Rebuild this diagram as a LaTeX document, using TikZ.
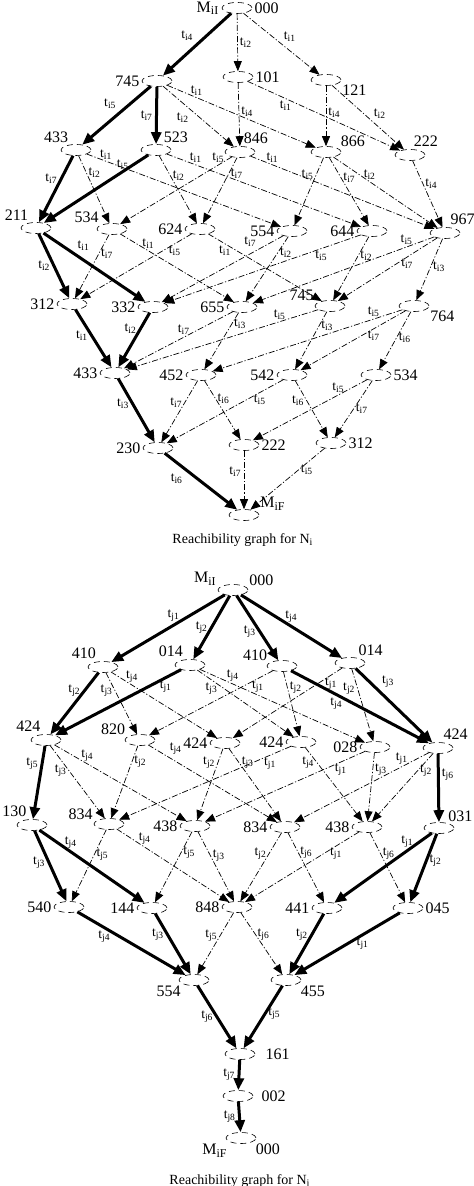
\documentclass[tikz,border=0pt]{standalone}
\usepackage{fontspec}
\setmainfont{Liberation Serif}
\usepackage{tikz}
\usetikzlibrary{positioning, shapes.geometric, arrows.meta}
\newcommand{\tlab}[1]{t\textsubscript{#1}}
\tikzset{
    stateE/.style={ellipse, draw, densely dashed, line width=0.3pt, minimum width=15pt, minimum height=5.5pt, inner sep=0pt},
    nlab/.style={font=\fontsize{8}{8}\selectfont, inner sep=1pt, solid},
    lbl/.style={font=\fontsize{6.8}{6.8}\selectfont, inner sep=1pt},
    captext/.style={font=\fontsize{7}{7}\selectfont, inner sep=0pt},
    fireT/.style={-{Triangle[length=5pt,width=4pt]}, line width=0.35pt, dash pattern=on 3pt off 1pt on 0.6pt off 1pt},
    fireB/.style={-{Triangle[length=6pt,width=5pt]}, line width=1.5pt}
}
\begin{document}
\begin{tikzpicture}[x=0.5pt, y=-0.5pt]
		\useasboundingbox (0,0) rectangle (474,1186);
		% N_i
		\node[stateE, label={[nlab]left:M\textsubscript{iI}}, label={[nlab]right:000}] (i000) at (237,8) {};
		\node[stateE, label={[nlab]left:745}] (i745a) at (157,81) {};
		\node[stateE, label={[nlab]right:101}] (i101) at (238,77) {};
		\node[stateE, label={[nlab]-10:121}] (i121) at (326,80) {};
		\node[stateE, label={[nlab]135:433}] (i433a) at (76,150) {};
		\node[stateE, label={[nlab]45:523}] (i523) at (156,150) {};
		\node[stateE, label={[nlab]75:846}] (i846) at (240,152) {};
		\node[stateE, label={[nlab]15:866}] (i866) at (326,152) {};
		\node[stateE, label={[nlab]75:222}] (i222a) at (410,155) {};
		\node[stateE, label={[nlab]135:211}] (i211) at (36,228) {};
		\node[stateE, label={[nlab]160:534}] (i534a) at (112,229) {};
		\node[stateE, label={[nlab]left:624}] (i624) at (200,229) {};
		\node[stateE, label={[nlab]left:554}] (i554a) at (292,231) {};
		\node[stateE, label={[nlab]left:644}] (i644) at (372,231) {};
		\node[stateE, label={[nlab]60:967}] (i967) at (445,233) {};
		\node[stateE, label={[nlab]left:312}] (i312a) at (72,304) {};
		\node[stateE, label={[nlab]left:332}] (i332) at (153,307) {};
		\node[stateE, label={[nlab]left:655}] (i655) at (242,307) {};
		\node[stateE, label={[nlab]170:745}] (i745b) at (330,306) {};
		\node[stateE, label={[nlab]-10:764}] (i764) at (414,306) {};
		\node[stateE, label={[nlab]left:433}] (i433b) at (115,373) {};
		\node[stateE, label={[nlab]left:452}] (i452) at (201,375) {};
		\node[stateE, label={[nlab]left:542}] (i542) at (292,375) {};
		\node[stateE, label={[nlab]right:534}] (i534b) at (376,375) {};
		\node[stateE, label={[nlab]left:230}] (i230) at (158,448) {};
		\node[stateE, label={[nlab]right:222}] (i222b) at (244,445) {};
		\node[stateE, label={[nlab]right:312}] (i312b) at (331,443) {};
		\node[stateE, label={[nlab]10:M\textsubscript{iF}}] (iF) at (244,515) {};
		\node[captext] (capI) at (243,540) {Reachibility graph for N\textsubscript{i}};

		\draw
		(i000) edge[fireB] node[lbl, pos=0.5, above left] {\tlab{i4}} (i745a)
		(i000) edge[fireT] node[lbl, pos=0.5, right] {\tlab{i2}} (i101)
		(i000) edge[fireT] node[lbl, pos=0.5, above right] {\tlab{i1}} (i121)
		(i745a) edge[fireB] node[lbl, pos=0.45, above left] {\tlab{i5}} (i433a)
		(i745a) edge[fireB] node[lbl, pos=0.5, left] {\tlab{i7}} (i523)
		(i745a) edge[fireT] node[lbl, pos=0.2, above] {\tlab{i1}} (i866)
		(i745a) edge[fireT] node[lbl, pos=0.4, below left] {\tlab{i2}} (i846)
		(i101) edge[fireT] node[lbl, pos=0.45, right] {\tlab{i4}} (i846)
		(i101) edge[fireT] node[lbl, pos=0.25, below] {\tlab{i1}} (i222a)
		(i121) edge[fireT] node[lbl, pos=0.45, right] {\tlab{i4}} (i866)
		(i121) edge[fireT] node[lbl, pos=0.55, above right] {\tlab{i2}} (i222a)
		(i433a) edge[fireB] node[lbl, pos=0.35, left] {\tlab{i7}} (i211)
		(i433a) edge[fireT] node[lbl, pos=0.25, right] {\tlab{i2}} (i534a)
		(i433a) edge[fireT] node[lbl, pos=0.1, above] {\tlab{i1}} (i554a)
		(i523) edge[fireB] node[lbl, pos=0.15, left] {\tlab{i5}} (i211)
		(i523) edge[fireT] node[lbl, pos=0.3, right] {\tlab{i2}} (i624)
		(i523) edge[fireT] node[lbl, pos=0.15, above] {\tlab{i1}} (i644)
		(i846) edge[fireT] node[lbl, pos=0.12, above] {\tlab{i5}} (i534a)
		(i846) edge[fireT] node[lbl, pos=0.25, right] {\tlab{i7}} (i624)
		(i846) edge[fireT] node[lbl, pos=0.12, above] {\tlab{i1}} (i967)
		(i866) edge[fireT] node[lbl, pos=0.25, left] {\tlab{i5}} (i554a)
		(i866) edge[fireT] node[lbl, pos=0.3, right] {\tlab{i7}} (i644)
		(i866) edge[fireT] node[lbl, pos=0.35, above] {\tlab{i2}} (i967)
		(i222a) edge[fireT] node[lbl, pos=0.35, right] {\tlab{i4}} (i967)
		(i211) edge[fireB] node[lbl, pos=0.5, left] {\tlab{i2}} (i312a)
		(i211) edge[fireB] node[lbl, pos=0.3, above right] {\tlab{i1}} (i332)
		(i534a) edge[fireT] node[lbl, pos=0.3, right] {\tlab{i7}} (i312a)
		(i534a) edge[fireT] node[lbl, pos=0.25, above] {\tlab{i1}} (i655)
		(i624) edge[fireT] node[lbl, pos=0.15, below] {\tlab{i5}} (i312a)
		(i624) edge[fireT] node[lbl, pos=0.15, below] {\tlab{i1}} (i745b)
		(i554a) edge[fireT] node[lbl, pos=0.2, above left] {\tlab{i7}} (i332)
		(i554a) edge[fireT] node[lbl, pos=0.25, right] {\tlab{i2}} (i655)
		(i644) edge[fireT] node[lbl, pos=0.2, below] {\tlab{i5}} (i332)
		(i644) edge[fireT] node[lbl, pos=0.3, right] {\tlab{i2}} (i745b)
		(i967) edge[fireT] node[lbl, pos=0.15, above] {\tlab{i5}} (i655)
		(i967) edge[fireT] node[lbl, pos=0.3, below] {\tlab{i7}} (i745b)
		(i967) edge[fireT] node[lbl, pos=0.45, right] {\tlab{i3}} (i764)
		(i312a) edge[fireB] node[lbl, pos=0.45, left] {\tlab{i1}} (i433b)
		(i332) edge[fireB] node[lbl, pos=0.3, left] {\tlab{i2}} (i433b)
		(i655) edge[fireT] node[lbl, pos=0.45, above] {\tlab{i7}} (i433b)
		(i655) edge[fireT] node[lbl, pos=0.2, right] {\tlab{i3}} (i452)
		(i745b) edge[fireT] node[lbl, pos=0.2, above] {\tlab{i5}} (i433b)
		(i745b) edge[fireT] node[lbl, pos=0.25, right] {\tlab{i3}} (i542)
		(i764) edge[fireT] node[lbl, pos=0.15, above] {\tlab{i5}} (i452)
		(i764) edge[fireT] node[lbl, pos=0.3, below] {\tlab{i7}} (i542)
		(i764) edge[fireT] node[lbl, pos=0.45, right] {\tlab{i6}} (i534b)
		(i433b) edge[fireB] node[lbl, pos=0.4, left] {\tlab{i3}} (i230)
		(i452) edge[fireT] node[lbl, pos=0.35, left] {\tlab{i7}} (i230)
		(i452) edge[fireT] node[lbl, pos=0.3, right] {\tlab{i6}} (i222b)
		(i542) edge[fireT] node[lbl, pos=0.2, below] {\tlab{i5}} (i230)
		(i542) edge[fireT] node[lbl, pos=0.35, left] {\tlab{i6}} (i312b)
		(i534b) edge[fireT] node[lbl, pos=0.25, above] {\tlab{i5}} (i222b)
		(i534b) edge[fireT] node[lbl, pos=0.5, right] {\tlab{i7}} (i312b)
		(i230) edge[fireB] node[lbl, pos=0.3, below left] {\tlab{i6}} (iF)
		(i222b) edge[fireT] node[lbl, pos=0.35, left] {\tlab{i7}} (iF)
		(i312b) edge[fireT] node[lbl, pos=0.35, right] {\tlab{i5}} (iF);

		% N_j
		\node[stateE, label={[nlab]170:M\textsubscript{iI}}, label={[nlab]10:000}] (j000) at (233,590) {};
		\node[stateE, label={[nlab]130:410}] (j410a) at (103,667) {};
		\node[stateE, label={[nlab]130:014}] (j014a) at (190,665) {};
		\node[stateE, label={[nlab]165:410}] (j410b) at (282,666) {};
		\node[stateE, label={[nlab]40:014}] (j014b) at (350,663) {};
		\node[stateE, label={[nlab]120:424}] (j424a) at (46,740) {};
		\node[stateE, label={[nlab]165:820}] (j820) at (140,740) {};
		\node[stateE, label={[nlab]left:424}] (j424b) at (225,743) {};
		\node[stateE, label={[nlab]left:424}] (j424c) at (301,742) {};
		\node[stateE, label={[nlab]left:028}] (j028) at (375,747) {};
		\node[stateE, label={[nlab]60:424}] (j424d) at (438,748) {};
		\node[stateE, label={[nlab]120:130}] (j130) at (32,825) {};
		\node[stateE, label={[nlab]170:834}] (j834a) at (109,824) {};
		\node[stateE, label={[nlab]left:438}] (j438a) at (195,826) {};
		\node[stateE, label={[nlab]left:834}] (j834b) at (285,827) {};
		\node[stateE, label={[nlab]left:438}] (j438b) at (367,827) {};
		\node[stateE, label={[nlab, xshift=-2pt]20:031}] (j031) at (439,828) {};
		\node[stateE, label={[nlab]left:540}] (j540) at (69,907) {};
		\node[stateE, label={[nlab]left:144}] (j144) at (152,908) {};
		\node[stateE, label={[nlab]left:848}] (j848) at (237,907) {};
		\node[stateE, label={[nlab]left:441}] (j441) at (327,908) {};
		\node[stateE, label={[nlab]right:045}] (j045) at (408,908) {};
		\node[stateE, label={[nlab]200:554}] (j554) at (194,980) {};
		\node[stateE, label={[nlab]-15:455}] (j455) at (286,980) {};
		\node[stateE, label={[nlab, label distance=4pt]right:161}] (j161) at (240,1054) {};
		\node[stateE, label={[nlab, label distance=3pt]right:002}] (j002) at (238,1096) {};
		\node[stateE, label={[nlab]-15:000}, label={[nlab]200:M\textsubscript{iF}}] (jF) at (241,1138) {};
		\node[captext, anchor=north] (capJ) at (240,1174) {Reachibility graph for N\textsubscript{j}};

		\draw
		(j000) edge[fireB] node[lbl, pos=0.45, above] {\tlab{j1}} (j410a)
		(j000) edge[fireB] node[lbl, pos=0.5, left] {\tlab{j2}} (j014a)
		(j000) edge[fireB] node[lbl, pos=0.55, left] {\tlab{j3}} (j410b)
		(j000) edge[fireB] node[lbl, pos=0.5, above] {\tlab{j4}} (j014b)
		(j410a) edge[fireB] node[lbl, pos=0.3, left] {\tlab{j2}} (j424a)
		(j410a) edge[fireT] node[lbl, pos=0.3, left] {\tlab{j3}} (j820)
		(j410a) edge[fireT] node[lbl, pos=0.2, above] {\tlab{j4}} (j424b)
		(j014a) edge[fireB] node[lbl, pos=0.12, below] {\tlab{j1}} (j424a)
		(j014a) edge[fireT] node[lbl, pos=0.15, below] {\tlab{j3}} (j424c)
		(j014a) edge[fireT] node[lbl, pos=0.2, above] {\tlab{j4}} (j028)
		(j410b) edge[fireT] node[lbl, pos=0.12, below] {\tlab{j1}} (j820)
		(j410b) edge[fireT] node[lbl, pos=0.25, right] {\tlab{j2}} (j424c)
		(j410b) edge[fireB] node[lbl, pos=0.33, below] {\tlab{j4}} (j424d)
		(j014b) edge[fireT] node[lbl, pos=0.1, below] {\tlab{j1}} (j424b)
		(j014b) edge[fireT] node[lbl, pos=0.28, left] {\tlab{j2}} (j028)
		(j014b) edge[fireB] node[lbl, pos=0.3, above right] {\tlab{j3}} (j424d)
		(j424a) edge[fireB] node[lbl, pos=0.25, left] {\tlab{j5}} (j130)
		(j424a) edge[fireT] node[lbl, pos=0.35, left] {\tlab{j3}} (j834a)
		(j424a) edge[fireT] node[lbl, pos=0.25, above] {\tlab{j4}} (j438a)
		(j820) edge[fireT] node[lbl, pos=0.22, right] {\tlab{j2}} (j834a)
		(j820) edge[fireT] node[lbl, pos=0.15, above right] {\tlab{j4}} (j834b)
		(j424b) edge[fireT] node[lbl, pos=0.2, left] {\tlab{j2}} (j438a)
		(j424b) edge[fireT] node[lbl, pos=0.2, right] {\tlab{j3}} (j834b)
		(j424c) edge[fireT] node[lbl, pos=0.12, below] {\tlab{j1}} (j834a)
		(j424c) edge[fireT] node[lbl, pos=0.2, left] {\tlab{j4}} (j438b)
		(j028) edge[fireT] node[lbl, pos=0.15, below] {\tlab{j1}} (j438a)
		(j028) edge[fireT] node[lbl, pos=0.25, right] {\tlab{j3}} (j438b)
		(j424d) edge[fireB] node[lbl, pos=0.3, right] {\tlab{j6}} (j031)
		(j424d) edge[fireT] node[lbl, pos=0.2, above] {\tlab{j1}} (j834b)
		(j424d) edge[fireT] node[lbl, pos=0.25, right] {\tlab{j2}} (j438b)
		(j130) edge[fireB] node[lbl, pos=0.45, left] {\tlab{j3}} (j540)
		(j130) edge[fireB] node[lbl, pos=0.3, above] {\tlab{j4}} (j144)
		(j834a) edge[fireT] node[lbl, pos=0.35, right] {\tlab{j5}} (j540)
		(j834a) edge[fireT] node[lbl, pos=0.25, above] {\tlab{j4}} (j848)
		(j438a) edge[fireT] node[lbl, pos=0.3, right] {\tlab{j5}} (j144)
		(j438a) edge[fireT] node[lbl, pos=0.35, right] {\tlab{j3}} (j848)
		(j834b) edge[fireT] node[lbl, pos=0.3, left] {\tlab{j2}} (j848)
		(j834b) edge[fireT] node[lbl, pos=0.28, right] {\tlab{j6}} (j441)
		(j438b) edge[fireT] node[lbl, pos=0.2, below] {\tlab{j1}} (j848)
		(j438b) edge[fireT] node[lbl, pos=0.3, right] {\tlab{j6}} (j045)
		(j031) edge[fireB] node[lbl, pos=0.25, above] {\tlab{j1}} (j441)
		(j031) edge[fireB] node[lbl, pos=0.4, right] {\tlab{j2}} (j045)
		(j540) edge[fireB] node[lbl, pos=0.25, below] {\tlab{j4}} (j554)
		(j144) edge[fireB] node[lbl, pos=0.35, left] {\tlab{j3}} (j554)
		(j848) edge[fireT] node[lbl, pos=0.38, left] {\tlab{j5}} (j554)
		(j848) edge[fireT] node[lbl, pos=0.35, right] {\tlab{j6}} (j455)
		(j441) edge[fireB] node[lbl, pos=0.35, left] {\tlab{j2}} (j455)
		(j045) edge[fireB] node[lbl, pos=0.35, below] {\tlab{j1}} (j455)
		(j554) edge[fireB] node[lbl, pos=0.5, left] {\tlab{j6}} (j161)
		(j455) edge[fireB] node[lbl, pos=0.45, right] {\tlab{j5}} (j161)
		(j161) edge[fireB] node[lbl, pos=0.5, left] {\tlab{j7}} (j002)
		(j002) edge[fireB] node[lbl, pos=0.5, left] {\tlab{j8}} (jF);
\end{tikzpicture}
\end{document}
